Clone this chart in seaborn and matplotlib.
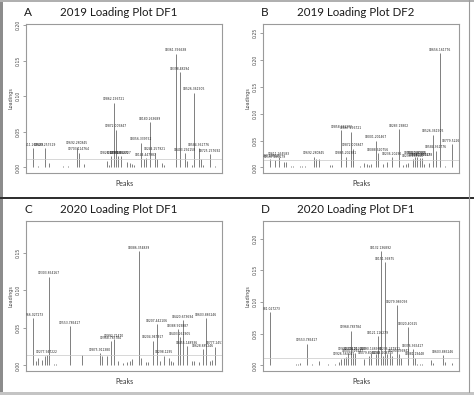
import matplotlib
matplotlib.use("Agg")
import matplotlib.pyplot as plt
import seaborn as sns
import pandas as pd
from matplotlib.lines import Line2D
from matplotlib.patches import Rectangle

# panel A - 2019 DF1
a_peak = [1, 3, 6, 8, 14, 16, 20, 21, 23, 27, 28, 33, 34, 35, 36, 37, 38, 39, 42, 43, 44, 45,
          48, 49, 50, 52, 54, 55, 57, 58, 63, 65, 67, 68, 70, 71, 73, 74, 75, 78, 80]
a_load = [0.027, 0.002, 0.027, 0.006, 0.002, 0.002, 0.029, 0.021, 0.005, 0.001, 0.001, 0.009, 0.003,
          0.016, 0.091, 0.053, 0.016, 0.016, 0.008, 0.006, 0.005, 0.003,
          0.035, 0.012, 0.013, 0.064, 0.021, 0.012, 0.006, 0.004, 0.160, 0.134, 0.020, 0.009, 0.003,
          0.105, 0.027, 0.012, 0.004, 0.019, 0.002]
a_lab = ["X2611.264583", "", "X2629.257519", "", "", "", "X2692.280845", "X2703.114764", "", "", "",
         "", "", "X2826.143750", "X2862.196721", "X2872.005847", "X2879.288660", "X2884.312727",
         "", "", "", "", "X3056.339752", "", "X3144.447987", "X3180.263689", "X3244.257921", "", "", "",
         "X3361.396638", "X3398.48294", "X3403.292158", "", "", "X3526.361905", "X3584.361776", "", "",
         "X3725.257692", ""]

# panel B - 2019 DF2
b_peak = [1, 3, 5, 7, 8, 10, 11, 14, 15, 16, 20, 21, 22, 27, 28, 32, 34, 36, 37, 40, 42, 43, 44, 45,
          47, 48, 50, 52, 54, 57, 59, 60, 61, 63, 64, 65, 66, 67, 68, 70, 72, 73, 75, 77, 80]
b_load = [0.016, 0.014, 0.019, 0.010, 0.010, 0.003, 0.003, 0.002, 0.003, 0.003, 0.020, 0.016, 0.016,
          0.004, 0.004, 0.070, 0.020, 0.067, 0.035, 0.002, 0.008, 0.006, 0.005, 0.006,
          0.050, 0.027, 0.006, 0.010, 0.019, 0.071, 0.005, 0.007, 0.008, 0.015, 0.020, 0.020, 0.017,
          0.017, 0.006, 0.008, 0.061, 0.031, 0.213, 0.003, 0.043]
b_lab = ["X2587.298611", "X2597.487179", "X2611.264583", "", "", "", "", "", "", "", "X2692.280845",
         "", "", "", "", "X2858.231292", "X2865.202381", "X2867.196721", "X2872.005847", "", "", "", "", "",
         "X3001.201467", "X3088.320756", "", "", "X3236.20296", "X3283.19802", "", "", "",
         "X3296.188520", "X3309.264583", "X3320.40625", "X3338.286017", "X3361.396638", "", "",
         "X3526.361905", "X3584.361776", "X3656.161776", "", "X3779.52268"]

# panel C - 2020 DF1
c_peak = [1, 2, 3, 5, 6, 7, 8, 10, 11, 12, 17, 22, 30, 31, 33, 35, 36, 38, 40, 42, 43, 44, 47, 48,
          50, 51, 53, 55, 56, 58, 60, 61, 62, 64, 65, 66, 68, 70, 71, 73, 75, 76, 78, 79, 80]
c_load = [0.063, 0.006, 0.010, 0.007, 0.012, 0.014, 0.118, 0.002, 0.002, 0.001, 0.052, 0.014, 0.016,
          0.012, 0.012, 0.032, 0.035, 0.006, 0.003, 0.004, 0.006, 0.008, 0.152, 0.010,
          0.005, 0.004, 0.033, 0.055, 0.006, 0.013, 0.010, 0.006, 0.005, 0.048, 0.038, 0.060, 0.026,
          0.006, 0.006, 0.004, 0.022, 0.063, 0.006, 0.007, 0.025]
c_lab = ["X2266.027273", "", "", "", "", "X2277.947222", "X2303.854167", "", "", "", "X2553.786417",
         "", "X2875.911380", "", "", "X2968.783784", "X2992.71470", "", "", "", "", "", "X3086.354839", "",
         "", "", "X3204.947917", "X3207.442106", "", "X3298.1295", "", "", "", "X3388.919887",
         "X3403.261905", "X3420.673694", "X3455.148936", "", "", "", "X3628.885246", "X3603.885246",
         "", "", "X3777.2451"]

# panel D - 2020 DF1
d_peak = [1, 4, 6, 8, 12, 13, 14, 17, 19, 22, 26, 29, 31, 32, 33, 34, 35, 36, 37, 38, 42, 44, 45, 47,
          48, 49, 50, 51, 52, 53, 54, 56, 57, 58, 61, 63, 64, 65, 66, 67, 71, 72, 76, 77, 80]
d_load = [0.084, 0.001, 0.001, 0.001, 0.003, 0.003, 0.004, 0.034, 0.002, 0.007, 0.002, 0.003, 0.006,
          0.010, 0.012, 0.013, 0.020, 0.055, 0.018, 0.020, 0.010, 0.015, 0.020, 0.018,
          0.046, 0.180, 0.015, 0.163, 0.018, 0.020, 0.015, 0.095, 0.018, 0.012, 0.060, 0.026, 0.012,
          0.003, 0.002, 0.003, 0.008, 0.004, 0.016, 0.006, 0.004]
d_lab = ["X2381.027273", "", "", "", "", "", "", "X2553.786417", "", "", "", "", "", "",
         "X2926.563025", "", "X2992.71470", "X2968.783784", "X3001.316547", "X3006.250000", "",
         "X3079.806230", "X3090.148936", "", "X3121.116279", "X3132.136892", "X3144.208333",
         "X3151.36875", "", "X3236.247911", "", "X3279.985093", "X3290.336842", "", "X3320.40625",
         "X3376.365417", "X3381.19448", "", "", "", "", "", "X3603.885246", "", ""]

titles = ["2019 Loading Plot DF1", "2019 Loading Plot DF2", "2020 Loading Plot DF1", "2020 Loading Plot DF1"]
letters = ["A", "B", "C", "D"]
y_top = [0.194, 0.257, 0.185, 0.219]
y_ticks = [[0, 0.05, 0.10, 0.15, 0.20], [0, 0.05, 0.10, 0.15, 0.20, 0.25],
           [0, 0.05, 0.10, 0.15], [0, 0.05, 0.10, 0.15, 0.20]]
cutoff = [0.0117, 0.014, 0.0137, 0.012]
n_peaks = 80

panels = [(a_peak, a_load, a_lab), (b_peak, b_load, b_lab),
          (c_peak, c_load, c_lab), (d_peak, d_load, d_lab)]

sns.set_style("white")
plt.rcParams['font.family'] = ['DejaVu Sans']

fig = plt.figure(figsize=(4.74, 3.95), dpi=100)
W, H = 474.0, 395.0

# axes boxes in pixels: left, top, width, height
boxes = [(26, 24, 196, 149), (263, 24, 196, 149), (26, 221, 196, 150), (263, 221, 196, 150)]

for k, (peak, load, lab) in enumerate(panels):
    df = pd.DataFrame({"peak": peak, "loading": load, "label": lab})
    l, t, w, h = boxes[k]
    ax = fig.add_axes([l / W, 1 - (t + h) / H, w / W, h / H])
    ax.vlines(df["peak"], 0, df["loading"], color="#6a6a6a", lw=0.6)
    ax.axhline(cutoff[k], color="#c8c8c8", lw=0.5)
    for _, r in df[df["label"] != ""].iterrows():
        ax.annotate(r["label"], (r["peak"], r["loading"]), xytext=(0, 1.0),
                    textcoords="offset points", ha="center", va="bottom",
                    fontsize=2.2, family=["Liberation Sans Narrow", "DejaVu Sans"],
                    color="#222222", clip_on=True, annotation_clip=True)
    pad = 0.04 * (n_peaks - 1)
    ax.set_xlim(1 - pad, n_peaks + pad)
    ax.set_ylim(-0.04 * y_top[k], y_top[k] * 1.04)
    ax.set_xticks([])
    ax.set_yticks(y_ticks[k])
    ax.set_yticklabels(["%.2f" % v for v in y_ticks[k]], rotation=90, va="center", fontsize=3.3,
                       color="#444444")
    ax.tick_params(axis="y", length=2, width=0.4, pad=1.5, color="#555555", left=True)
    for s in ax.spines.values():
        s.set_color("#9a9a9a")
        s.set_linewidth(0.8)
    ax.set_xlabel("Peaks", fontsize=5, family="Lato", labelpad=5, color="#333333")
    ax.set_ylabel("Loadings", fontsize=3.5, labelpad=2, color="#444444")

    # panel letter and title
    ty = t - 11
    fig.text((l + 2) / W, 1 - ty / H, letters[k], fontsize=8.5, family="Lato",
             ha="center", va="center", color="#1a1a1a")
    fig.text((l + w / 2 - 5) / W, 1 - ty / H, titles[k], fontsize=8.3, family="Lato",
             ha="center", va="center", color="#1a1a1a")

# frame lines of the composite figure
fig.add_artist(Rectangle((0, 0), 3 / W, 1, transform=fig.transFigure, color="#8c8c8c", lw=0))
fig.add_artist(Rectangle((0, 1 - 199 / H), 1, 2 / H, transform=fig.transFigure, color="#303030", lw=0))
fig.add_artist(Rectangle((0, 1 - 1.5 / H), 1, 1.5 / H, transform=fig.transFigure, color="#b0b0b0", lw=0))
fig.add_artist(Rectangle((0, 0), 1, 3 / H, transform=fig.transFigure, color="#c4c4c4", lw=0))
fig.add_artist(Line2D([469 / W, 469 / W], [3 / H, 1], transform=fig.transFigure, color="#9a9a9a", lw=0.8))

fig.savefig("out.png", dpi=100)
